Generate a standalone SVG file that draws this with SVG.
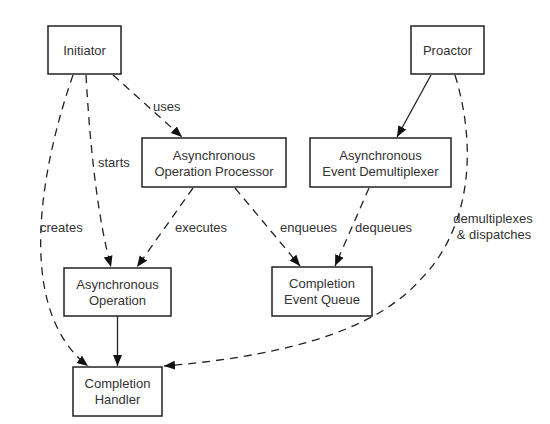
<svg xmlns="http://www.w3.org/2000/svg" width="550" height="424" viewBox="0 0 550 424">
<style>
.box{fill:#fff;stroke:#222;stroke-width:1.5}
.t{font-family:"Liberation Sans",Arial,sans-serif;font-size:13px;fill:#333;text-anchor:middle}
.l{font-family:"Liberation Sans",Arial,sans-serif;font-size:13px;fill:#333}
.e{fill:none;stroke:#222;stroke-width:1.3}
.d{stroke-dasharray:8,6}
</style>
<defs>
<marker id="ah" markerUnits="userSpaceOnUse" markerWidth="12" markerHeight="10" refX="11" refY="4.5" orient="auto">
<path d="M0,0 L11,4.5 L0,9 z" fill="#111"/>
</marker>
</defs>
<rect width="550" height="424" fill="#fff"/>
<g id="connectors">
<path class="e d" d="M113,75 L182,137" marker-end="url(#ah)"/>
<path class="e d" d="M86,75 Q93,200 111,267" marker-end="url(#ah)"/>
<path class="e d" d="M73,75 C40,170 15,310 88,366" marker-end="url(#ah)"/>
<path class="e d" d="M193,188 L137,267" marker-end="url(#ah)"/>
<path class="e d" d="M235,188 L300,266" marker-end="url(#ah)"/>
<path class="e d" d="M369,188 L335,266" marker-end="url(#ah)"/>
<path class="e" d="M431,75 L397,137" marker-end="url(#ah)"/>
<path class="e d" d="M455,75 C478,150 470,230 420,280 C380,325 300,355 164,366" marker-end="url(#ah)"/>
<path class="e" d="M117.5,316 L117.5,366" marker-end="url(#ah)"/>
<text class="l" x="153" y="111">uses</text>
<text class="l" x="98" y="167">starts</text>
<text class="l" x="40" y="232">creates</text>
<text class="l" x="175" y="232">executes</text>
<text class="l" x="280" y="232">enqueues</text>
<text class="l" x="355" y="232">dequeues</text>
<text class="t" x="493" y="223">demultiplexes</text>
<text class="t" x="494" y="239">&amp; dispatches</text>
</g>
<g id="initiator">
<rect class="box" x="48" y="26" width="73" height="48"/>
<text class="t" x="84.5" y="54.5">Initiator</text>
</g>
<g id="proactor">
<rect class="box" x="411" y="26" width="73" height="48"/>
<text class="t" x="447.5" y="54.5">Proactor</text>
</g>
<g id="aop">
<rect class="box" x="142" y="138" width="144" height="49"/>
<text class="t" x="214" y="159.5">Asynchronous</text>
<text class="t" x="214" y="176">Operation Processor</text>
</g>
<g id="aed">
<rect class="box" x="310" y="138" width="141" height="49"/>
<text class="t" x="380.5" y="159.5">Asynchronous</text>
<text class="t" x="380.5" y="176">Event Demultiplexer</text>
</g>
<g id="ao">
<rect class="box" x="64" y="268" width="107" height="48"/>
<text class="t" x="117.5" y="288.5">Asynchronous</text>
<text class="t" x="117.5" y="305">Operation</text>
</g>
<g id="ceq">
<rect class="box" x="272" y="267" width="100" height="49"/>
<text class="t" x="322" y="288">Completion</text>
<text class="t" x="322" y="304">Event Queue</text>
</g>
<g id="ch">
<rect class="box" x="73" y="367" width="89" height="49"/>
<text class="t" x="117.5" y="388">Completion</text>
<text class="t" x="117.5" y="404">Handler</text>
</g>
</svg>
